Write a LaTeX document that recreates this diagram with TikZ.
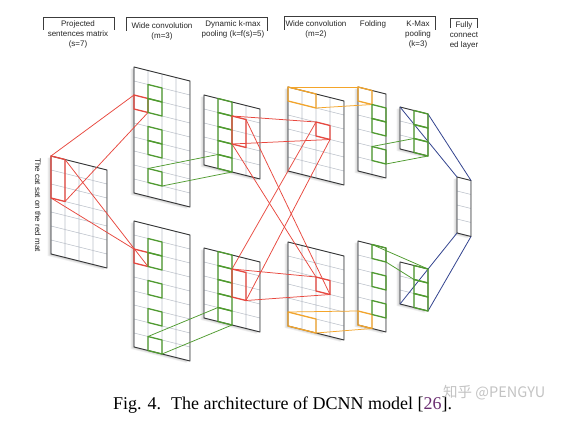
\documentclass[tikz,border=0pt]{standalone}
\usepackage{fontspec}
\setmainfont{Liberation Sans}
\newfontfamily\capfont{Liberation Serif}
\newfontfamily\cjkfont{Noto Sans CJK SC}
\usetikzlibrary{calc}
\definecolor{cred}{HTML}{E8473E}
\definecolor{cgreen}{HTML}{4F9B2F}
\definecolor{corange}{HTML}{F4A52A}
\definecolor{cblue}{HTML}{33448F}
\definecolor{cframe}{HTML}{3C3C3C}
\definecolor{cgrid}{HTML}{BCC1CA}
\definecolor{cpurple}{HTML}{6A2C70}
\definecolor{cwm}{HTML}{BDBDBD}
\tikzset{
  gridline/.style={draw=cgrid, line width=0.6pt},
  frame/.style={draw=cframe, line width=0.9pt, line join=round},
  hred/.style={draw=cred, line width=1.3pt, line join=round},
  hgreen/.style={draw=cgreen, line width=1.3pt, line join=round},
  horange/.style={draw=corange, line width=1.3pt, line join=round},
  lred/.style={draw=cred, line width=0.75pt},
  lgreen/.style={draw=cgreen, line width=0.75pt},
  lorange/.style={draw=corange, line width=0.75pt},
  lblue/.style={draw=cblue, line width=0.8pt},
  brk/.style={draw=cframe, line width=0.8pt},
  hdr/.style={font=\fontsize{8}{10}\selectfont, align=center, inner sep=0pt, anchor=north, text=black!85},
}
\newcommand\gmat[5]{%
  \begin{scope}[cm={14,-3.5,0,-14,(#2,#3)},x=1pt,y=1pt]
    \foreach \sh in {1,2,3,4}{\fill[black,opacity=0.05,shift={(-0.06*\sh,0.05*\sh)}] (0,0) rectangle (#4,#5);}
    \fill[white] (0,0) rectangle (#4,#5);
    \draw[gridline,step=1] (0,0) grid (#4,#5);
    \draw[frame] (0,0) rectangle (#4,#5);
    \foreach \i in {0,...,#4}{\foreach \j in {0,...,#5}{\coordinate (#1-\i-\j) at (\i,\j);}}
  \end{scope}}
\newcommand\hl[6]{\draw[#1] (#2-#3-#4) -- (#2-#5-#4) -- (#2-#5-#6) -- (#2-#3-#6) -- cycle;}
\begin{document}
\begin{tikzpicture}[x=1pt,y=-1pt]
\useasboundingbox (0,0) rectangle (581,425);
\fill[white] (0,0) rectangle (581,425);

% header brackets
\draw[brk] (43,30) -- (43,17) -- (114,17) -- (114,30);
\draw[brk] (126,31) -- (126,17) -- (267,17) -- (267,31);
\draw[brk] (284,30) -- (284,16) -- (435,16) -- (435,30);
\draw[brk] (450,28) -- (450,18) -- (477,18) -- (477,28);

\node[hdr] (h1) at (78,20.5) {Projected\\sentences matrix\\(s=7)};
\node[hdr] (h2a) at (162,22.5) {Wide convolution\\(m=3)};
\node[hdr] (h2b) at (233,20.5) {Dynamic k-max\\pooling (k=f(s)=5)};
\node[hdr] (h3a) at (316,20.5) {Wide convolution\\(m=2)};
\node[hdr] (h3b) at (373,20.5) {Folding};
\node[hdr] (h3c) at (418,20.5) {K-Max\\pooling\\(k=3)};
\node[hdr] (h4) at (464,21.5) {Fully\\connect\\ed layer};

\node[font=\fontsize{8}{9}\selectfont, rotate=-90, inner sep=0pt, text=black!85] (sent) at (38,205) {The cat sat on the red mat};

% matrices
\gmat{M1}{51}{156}{4}{7}
\gmat{M2t}{134}{67}{4}{9}
\gmat{M2b}{134}{221}{4}{9}
\gmat{M3t}{204}{95}{4}{5}
\gmat{M3b}{204}{248}{4}{5}
\gmat{M4t}{288}{87}{4}{6}
\gmat{M4b}{288}{242}{4}{6}
\gmat{M5t}{358}{87}{2}{6}
\gmat{M5b}{358}{241}{2}{6}
\gmat{M6t}{400}{107}{2}{3}
\gmat{M6b}{400}{262}{2}{3}
\gmat{M7}{457}{177}{1}{4}

% connectors
\draw[lred] (M1-0-0) -- (M2t-0-2);
\draw[lred] (M1-1-3) -- (M2t-1-3);
\draw[lred] (M1-1-0) -- (M2b-1-3);
\draw[lred] (M1-0-3) -- (M2b-0-2);
\draw[lred] (M3t-2-1) -- (M4t-2-2);
\draw[lred] (M3t-2-3) -- (M4t-3-3);
\draw[lred] (M3t-3-1) -- (M4b-3-3);
\draw[lred] (M3t-2-3) -- (M4b-2-2);
\draw[lred] (M3b-2-1) -- (M4b-2-2);
\draw[lred] (M3b-3-3) -- (M4b-3-3);
\draw[lred] (M3b-2-1) -- (M4t-2-2);
\draw[lred] (M3b-3-3) -- (M4t-3-3);

\draw[lorange] (M4t-0-0) -- (M5t-0-0);
\draw[lorange] (M4t-2-1) -- (M5t-1-1);
\draw[lorange] (M4b-0-5) -- (M5b-0-5);
\draw[lorange] (M4b-2-6) -- (M5b-1-6);

\draw[lgreen] (M2t-1-7) -- (M3t-1-4);
\draw[lgreen] (M2t-2-8) -- (M3t-2-5);
\draw[lgreen] (M2b-1-8) -- (M3b-1-4);
\draw[lgreen] (M2b-2-9) -- (M3b-2-5);
\draw[lgreen] (M5t-1-4) -- (M6t-1-2);
\draw[lgreen] (M5t-2-5) -- (M6t-2-3);
\draw[lgreen] (M5b-1-0) -- (M6b-2-0);
\draw[lgreen] (M5b-2-1) -- (M6b-1-1);

\draw[lblue] (M6t-0-0) -- (M7-0-0);
\draw[lblue] (M6t-2-0) -- (M7-1-0);
\draw[lblue] (M6b-0-3) -- (M7-0-4);
\draw[lblue] (M6b-2-3) -- (M7-1-4);

% highlights
\hl{hred}{M1}{0}{0}{1}{3}
\hl{hred}{M2t}{0}{2}{1}{3}
\hl{hred}{M2b}{0}{2}{1}{3}
\foreach \r/\rr in {1/2,2/3,4/5,5/6,7/8}{\hl{hgreen}{M2t}{1}{\r}{2}{\rr}}
\foreach \r/\rr in {1/2,2/3,4/5,6/7,8/9}{\hl{hgreen}{M2b}{1}{\r}{2}{\rr}}
\foreach \r/\rr in {0/1,1/2,2/3,3/4,4/5}{\hl{hgreen}{M3t}{1}{\r}{2}{\rr}\hl{hgreen}{M3b}{1}{\r}{2}{\rr}}
\hl{hred}{M3t}{2}{1}{3}{3}
\hl{hred}{M3b}{2}{1}{3}{3}
\hl{hred}{M4t}{2}{2}{3}{3}
\hl{hred}{M4b}{2}{2}{3}{3}
\hl{horange}{M4t}{0}{0}{2}{1}
\hl{horange}{M4b}{0}{5}{2}{6}
\hl{horange}{M5t}{0}{0}{1}{1}
\hl{horange}{M5b}{0}{5}{1}{6}
\foreach \r/\rr in {1/2,2/3,4/5}{\hl{hgreen}{M5t}{1}{\r}{2}{\rr}}
\foreach \r/\rr in {0/1,2/3,4/5}{\hl{hgreen}{M5b}{1}{\r}{2}{\rr}}
\foreach \r/\rr in {0/1,1/2,2/3}{\hl{hgreen}{M6t}{1}{\r}{2}{\rr}\hl{hgreen}{M6b}{1}{\r}{2}{\rr}}

% caption and watermark
\node[font=\capfont\fontsize{18}{22}\selectfont, anchor=base west, inner sep=0pt] (cap) at (113,409) {Fig. 4.\hspace{0.55em}The architecture of DCNN model [\textcolor{cpurple}{26}].};
\node[font=\cjkfont\fontsize{14.5}{17}\selectfont, text=cwm, anchor=base west, inner sep=0pt, opacity=0.9] (wm) at (443,397) {知乎 @PENGYU};
\end{tikzpicture}
\end{document}
